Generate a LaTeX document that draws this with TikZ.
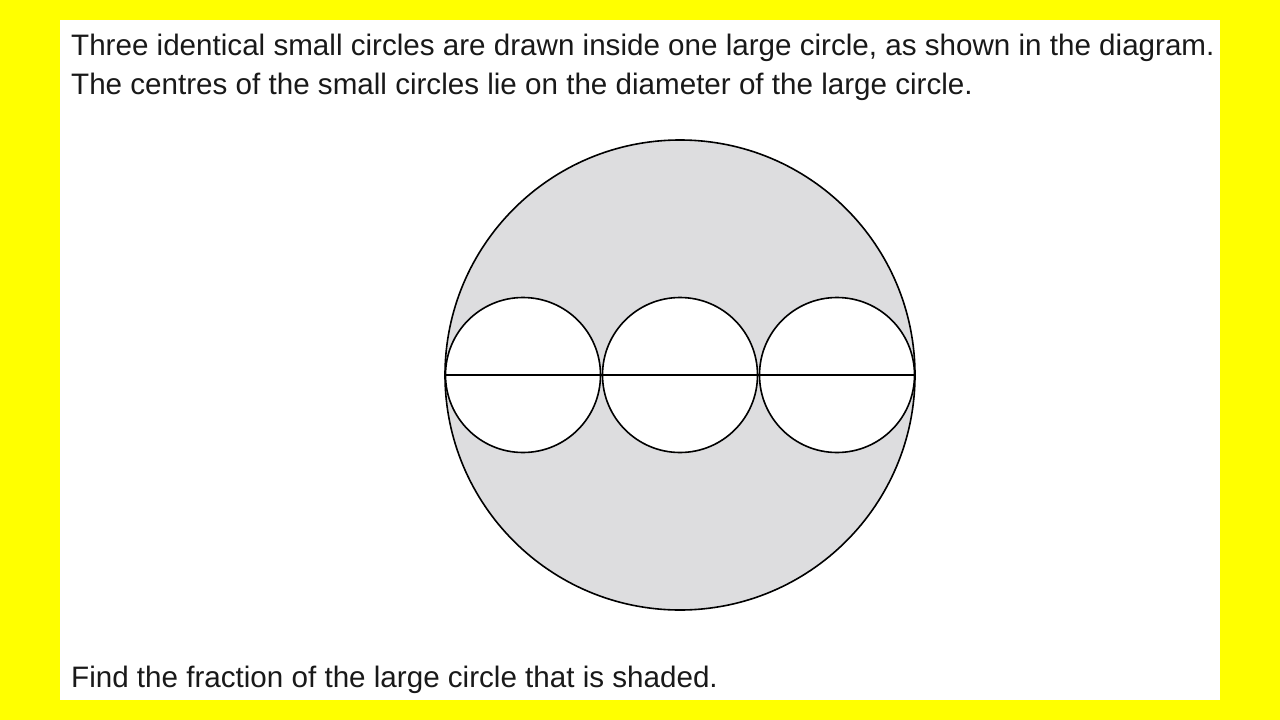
\documentclass[tikz,border=0pt]{standalone}
\usepackage{fontspec}
\setmainfont{Liberation Sans}
\usetikzlibrary{positioning}
\definecolor{panelyellow}{RGB}{255,255,0}
\definecolor{shadegray}{RGB}{221,221,223}
\tikzset{
    %Define style for the large circle
    bigcirc/.style={
           circle,
           draw=black, line width=1.6pt,
           fill=shadegray,
           minimum size=470pt,
           inner sep=0pt},
    %Define style for the small circles
    smallcirc/.style={
           circle,
           draw=black, line width=1.6pt,
           fill=white,
           minimum size=155pt,
           inner sep=0pt},
    %Define style for the text
    txt/.style={
           anchor=base west,
           inner sep=0pt,
           font=\fontsize{29.6}{39}\selectfont,
           text=black!90}
}
\begin{document}
\begin{tikzpicture}[x=1pt,y=-1pt]
\fill[panelyellow] (0,0) rectangle (1280,720);
\fill[white] (60,20) rectangle (1220,700);
\useasboundingbox (0,0) rectangle (1280,720);
\node[bigcirc](big) at (680,375){};
\node[smallcirc](c2) at (680,375){};
\node[smallcirc, left=0.4pt of c2](c1){};
\node[smallcirc, right=0.4pt of c2](c3){};
\draw[line width=1.6pt] (big.west) -- (big.east);
\node[txt](q1) at (71,55){Three identical small circles are drawn inside one large circle, as shown in the diagram.};
\node[txt](q2) at (71,94){The centres of the small circles lie on the diameter of the large circle.};
\node[txt](q3) at (71,687){Find the fraction of the large circle that is shaded.};
\end{tikzpicture}
\end{document}
